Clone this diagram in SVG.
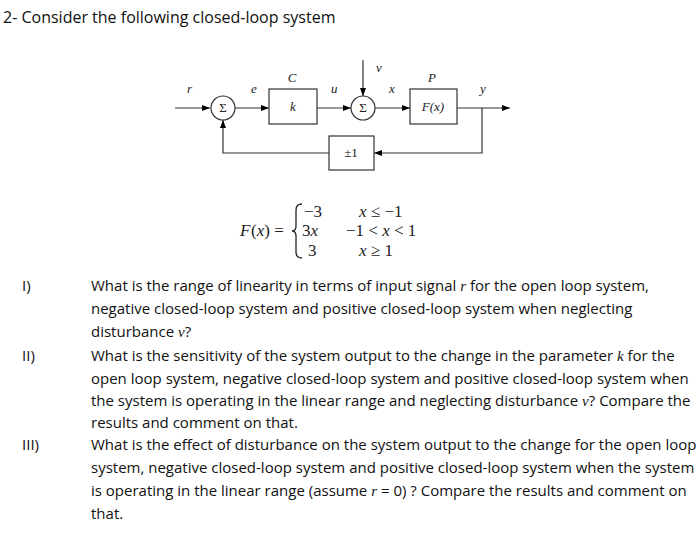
<svg xmlns="http://www.w3.org/2000/svg" width="700" height="551" viewBox="0 0 700 551">
<defs><marker id="a" markerWidth="8" markerHeight="6" refX="8" refY="3" orient="auto" markerUnits="userSpaceOnUse"><path d="M0,0L8,3L0,6z" fill="#000"/></marker></defs>
<style>
.t{font-family:"Open Sans","Liberation Sans",sans-serif;font-size:15px;fill:#111}
.m{font-family:"Liberation Serif",serif;font-style:italic;font-size:13px;fill:#222}
.r{font-family:"Liberation Serif",serif;font-size:13px;fill:#222}
.b{fill:#fff;stroke:#333;stroke-width:1.2}
.l{fill:none;stroke:#333;stroke-width:1.2}
.f{font-family:"Liberation Serif",serif;font-size:17px;fill:#222}
</style>
<rect width="700" height="551" fill="#fff"/>
<text class="t" x="3" y="23" style="font-size:16px">2-  Consider the following closed-loop system</text>
<g id="connectors">
<path class="l" d="M175,108H210" marker-end="url(#a)"/>
<path class="l" d="M235,108H269" marker-end="url(#a)"/>
<path class="l" d="M317,108H351" marker-end="url(#a)"/>
<path class="l" d="M363,60V96" marker-end="url(#a)"/>
<path class="l" d="M375,108H410" marker-end="url(#a)"/>
<path class="l" d="M457,108H510" marker-end="url(#a)"/>
<path class="l" d="M482,108V153H374" marker-end="url(#a)"/>
<path class="l" d="M329,153H223V120" marker-end="url(#a)"/>
</g>
<g id="sum1"><circle class="b" cx="223" cy="108" r="12"/><text class="r" x="223" y="112" text-anchor="middle">Σ</text></g>
<g id="C"><rect class="b" x="269" y="89" width="48" height="35"/><text class="m" x="293" y="111" text-anchor="middle">k</text><text class="m" x="292" y="82" text-anchor="middle">C</text></g>
<g id="sum2"><circle class="b" cx="363" cy="108" r="12"/><text class="r" x="363" y="112" text-anchor="middle">Σ</text></g>
<g id="P"><rect class="b" x="410" y="89" width="47" height="35"/><text class="m" x="433" y="111" text-anchor="middle">F(x)</text><text class="m" x="432" y="82" text-anchor="middle">P</text></g>
<g id="fb"><rect class="b" x="329" y="136" width="45" height="34"/><text class="r" x="351" y="157" text-anchor="middle">±1</text></g>
<g id="labels">
<text class="m" x="187" y="93">r</text><text class="m" x="251" y="93">e</text><text class="m" x="331" y="93">u</text>
<text class="m" x="376" y="72">v</text><text class="m" x="389" y="93">x</text><text class="m" x="480" y="93">y</text>
</g>
<g id="eq">
<text class="f" x="240" y="236" font-style="italic">F</text><text class="f" x="251" y="236">(<tspan font-style="italic">x</tspan>) =</text>
<path d="M302,204Q296,204 296,210V226Q296,231 292,231Q296,231 296,236V252Q296,258 302,258" fill="none" stroke="#222" stroke-width="1.3"/>
<text class="f" x="304" y="217">−3</text><text class="f" x="302" y="236">3<tspan font-style="italic">x</tspan></text><text class="f" x="308" y="256">3</text>
<text class="f" x="359" y="217"><tspan font-style="italic">x</tspan> ≤ −1</text>
<text class="f" x="346" y="236">−1 &lt; <tspan font-style="italic">x</tspan> &lt; 1</text>
<text class="f" x="359" y="256"><tspan font-style="italic">x</tspan> ≥ 1</text>
</g>
<g id="body" class="t">
<text x="22" y="291">I)</text><text x="22" y="361">II)</text><text x="22" y="450">III)</text>
<text x="91" y="291">What is the range of linearity in terms of input signal <tspan font-family="Liberation Serif" font-style="italic">r</tspan> for the open loop system,</text>
<text x="91" y="314">negative closed-loop system and positive closed-loop system when neglecting</text>
<text x="91" y="337">disturbance <tspan font-family="Liberation Serif" font-style="italic">v</tspan>?</text>
<text x="91" y="361">What is the sensitivity of the system output to the change in the parameter <tspan font-family="Liberation Serif" font-style="italic">k</tspan> for the</text>
<text x="91" y="384">open loop system, negative closed-loop system and positive closed-loop system when</text>
<text x="91" y="406">the system is operating in the linear range and neglecting disturbance <tspan font-family="Liberation Serif" font-style="italic">v</tspan>? Compare the</text>
<text x="91" y="428">results and comment on that.</text>
<text x="91" y="450">What is the effect of disturbance on the system output to the change for the open loop</text>
<text x="91" y="473">system, negative closed-loop system and positive closed-loop system when the system</text>
<text x="91" y="496">is operating in the linear range (assume <tspan font-family="Liberation Serif" font-style="italic">r</tspan> = 0) ? Compare the results and comment on</text>
<text x="91" y="519">that.</text>
</g>
</svg>
